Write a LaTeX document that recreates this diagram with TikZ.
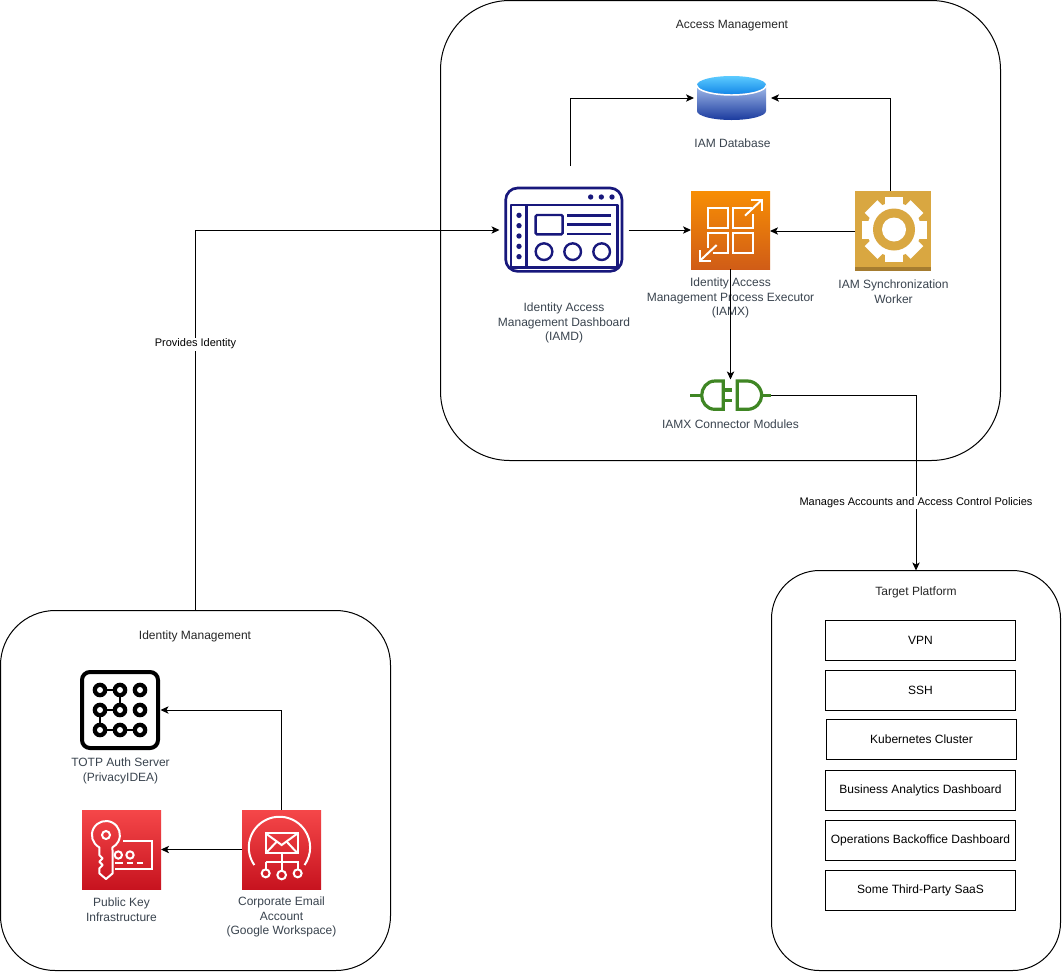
\documentclass[tikz,border=0pt]{standalone}
\usepackage{fontspec}
\setmainfont{Liberation Sans}
\usetikzlibrary{arrows.meta,calc}
\definecolor{navyicon}{HTML}{18187C}
\definecolor{plug}{HTML}{3F8624}
\definecolor{lab}{HTML}{3A444F}
\definecolor{gold}{HTML}{D9A741}
\definecolor{golddark}{HTML}{A57C30}
\definecolor{red1}{HTML}{F54749}
\definecolor{red2}{HTML}{C7131F}
\definecolor{or1}{HTML}{F78E04}
\definecolor{or2}{HTML}{D05C17}
\definecolor{dbtop1}{HTML}{5CCBFF}
\definecolor{dbtop2}{HTML}{1488E8}
\definecolor{dbbody1}{HTML}{A4BDEB}
\definecolor{dbbody2}{HTML}{1A3A9E}
\tikzset{
  hit/.style 2 args={minimum width=#1*0.75pt,minimum height=#2*0.75pt,inner sep=0,outer sep=0},
  zone/.style={draw=black,line width=0.75pt,fill=white},
  itembox/.style={draw=black,line width=0.75pt,fill=white,minimum width=142.5pt,minimum height=30pt,inner sep=0,font=\fontsize{9}{11}\selectfont},
  lbl/.style={align=center,inner sep=0,font=\fontsize{9}{10.9}\selectfont,text=lab},
  title/.style={align=center,inner sep=0,font=\fontsize{9}{10.9}\selectfont,text=black!85},
  edge/.style={fill=white,inner sep=1pt,font=\fontsize{8.25}{10}\selectfont},
  conn/.style={draw=black,line width=0.75pt,-{Stealth[length=6pt,width=5.5pt,inset=1.5pt]}},
  zoomed/.style={x=0.25pt,y=-0.25pt},
  wl/.style={draw=white,line width=1.5pt,line join=miter},
}
\begin{document}
\begin{tikzpicture}[x=0.75pt,y=-0.75pt]
\useasboundingbox (0,0) rectangle (1062,971);
% zones
\draw[zone,rounded corners=52pt] (440.5,0.5) rectangle (1000.5,460.5);
\node[hit={560}{460}] (access) at (720.5,230.5) {};
\draw[zone,rounded corners=41pt] (0.5,610.5) rectangle (390.5,970.5);
\node[hit={390}{360}] (identity) at (195.5,790.5) {};
\draw[zone,rounded corners=36pt] (771.5,570.5) rectangle (1060.5,970.5);
\node[hit={289}{400}] (target) at (916,770.5) {};
\node[title] (tacc) at (732,26) {Access Management};
\node[title] (tid) at (195,636.5) {Identity Management};
\node[title] (ttar) at (916,592.5) {Target Platform};
% item boxes
\node[itembox] (vpn) at (920.5,640.5) {VPN};
\node[itembox] (ssh) at (920.5,690.5) {SSH};
\node[itembox] (k8s) at (921.5,739.5) {Kubernetes Cluster};
\node[itembox] (bad) at (920.5,790.5) {Business Analytics Dashboard};
\node[itembox] (obd) at (920.5,840.5) {Operations Backoffice Dashboard};
\node[itembox] (saas) at (920.5,890.5) {Some Third-Party SaaS};
% icon anchors
\node[hit={77}{44}] (db) at (732.5,98) {};
\node[hit={129}{128}] (iamd) at (564,230) {};
\node[hit={79}{78}] (iamx) at (730.5,230) {};
\node[hit={76}{80}] (sync) at (893,231) {};
\node[hit={81}{31}] (plugn) at (730.5,395) {};
\node[hit={80}{80}] (totp) at (120.5,710) {};
\node[hit={79}{79}] (pki) at (121.5,849.5) {};
\node[hit={79}{79}] (email) at (281.5,849.5) {};
% DB icon
\shade[top color=dbbody1,bottom color=dbbody2] (697,85) -- (697,111) arc[start angle=180,end angle=0,x radius=34.5,y radius=9] -- (766,85) -- cycle;
\shade[top color=dbtop1,bottom color=dbtop2] (731.5,85) ellipse (34.5 and 9);
\draw[white,line width=1.1pt] (697,85.5) arc[start angle=180,end angle=0,x radius=34.5,y radius=9.5];
% IAMD icon
\begin{scope}[shift={(490,70)},zoomed]
\draw[navyicon,line width=2pt,rounded corners=9pt] (47,354) rectangle (396,604);
\draw[navyicon,line width=1.8pt,line join=round] (63,405) rectangle (382,592);
\draw[navyicon,line width=1.8pt] (110,405) -- (110,592);
\foreach \yy in {436,467,498,529,560} \fill[navyicon] (87,\yy) circle (8);
\foreach \xx in {302,334,366} \fill[navyicon] (\xx,381) circle (8);
\draw[navyicon,line width=1.8pt,rounded corners=1pt] (137,435) rectangle (218,493);
\foreach \yy in {436,464,492} \draw[navyicon,line width=1.8pt] (232,\yy) -- (362,\yy);
\foreach \xx in {162,248,335} \draw[navyicon,line width=1.8pt] (\xx,545) circle (25);
\end{scope}
% IAMX icon
\shade[top color=or1,bottom color=or2] (691,191) rectangle (770,269.5);
\begin{scope}[shift={(490,70)},zoomed]
\draw[wl] (655,415) rectangle (715,473);
\draw[wl] (730,490) rectangle (790,548);
\draw[wl] (785,415) -- (730,415) -- (730,473) -- (790,473) -- (790,432);
\draw[wl] (670,548) -- (715,548) -- (715,490) -- (655,490) -- (655,535);
\draw[wl] (765,437) -- (815,390);
\draw[wl] (782,390) -- (815,390) -- (815,423);
\draw[wl] (680,525) -- (630,572);
\draw[wl] (630,540) -- (630,572) -- (663,572);
\end{scope}
% Sync icon
\fill[gold] (855,191) rectangle (931,271);
\fill[golddark] (855,267) rectangle (931,271);
\foreach \a in {0,45,90,135}
  \fill[white,rotate around={\a:(894,229.5)}] (885,197) rectangle (903,262);
\fill[white] (894,229.5) circle (27);
\fill[gold] (894,229.5) circle (21);
\fill[white] (894,229.5) circle (12);
% plug icon
\begin{scope}[shift={(660,180)},zoomed,plug,line width=2.4pt]
\draw (90,646) -- (125,646);
\draw (190,603) -- (165,603) .. controls (140,603) and (125,625) .. (125,646) .. controls (125,667) and (140,688) .. (165,688) -- (190,688) -- cycle;
\draw (190,630) -- (217,630);
\draw (190,662) -- (217,662);
\draw (232,603) -- (262,603) .. controls (287,603) and (305,625) .. (305,646) .. controls (305,667) and (287,688) .. (262,688) -- (232,688) -- cycle;
\draw (305,646) -- (333,646);
\end{scope}
% TOTP icon
\begin{scope}[shift={(60,660)},zoomed]
\draw[black,line width=3pt,rounded corners=6pt] (66,36) rectangle (294,264);
\draw[black,line width=2.2pt] (120,90) -- (180,90) -- (180,150) -- (120,150) -- (120,210) -- (240,210);
\foreach \xx in {120,180,240} \foreach \yy in {90,150,210} {
  \fill[black] (\xx,\yy) circle (22);
  \fill[white] (\xx,\yy) circle (9);
}
\end{scope}
% PKI icon
\shade[top color=red1,bottom color=red2] (82,810) rectangle (161,889);
\begin{scope}[shift={(60,660)},zoomed]
\draw[wl,line join=round] (118,562) arc[start angle=118,end angle=422,radius=42] -- (158,640) -- (138,657) -- (118,640) -- (118,625) -- (128,615) -- (118,605) -- (128,595) -- (118,585) -- cycle;
\draw[wl] (138,525) circle (12);
\draw[wl] (190,543) -- (277,543) -- (277,628) -- (165,628);
\draw[wl] (175,585) circle (11);
\draw[wl] (210,585) circle (11);
\draw[wl] (165,608) -- (190,608);
\draw[wl] (200,608) -- (218,608);
\draw[wl] (230,608) -- (250,608);
\end{scope}
% email icon
\shade[top color=red1,bottom color=red2] (242,810) rectangle (321,889);
\begin{scope}[shift={(60,660)},zoomed]
\draw[wl] (583,615) arc[start angle=145,end angle=395,radius=92];
\draw[wl] (617,520) rectangle (713,580);
\draw[wl] (617,520) -- (665,555) -- (713,520);
\draw[wl] (617,580) -- (650,545);
\draw[wl] (713,580) -- (680,545);
\draw[wl] (665,580) -- (665,632);
\draw[wl] (617,605) -- (713,605) -- (713,628);
\draw[wl] (617,605) -- (617,628);
\draw[wl] (617,640) circle (12);
\draw[wl] (665,645) circle (13);
\draw[wl] (713,640) circle (12);
\end{scope}
% labels
\node[lbl] (ldb) at (732.5,143) {IAM Database};
\node[lbl] (liamd) at (564,323) {Identity Access\\Management Dashboard\\(IAMD)};
\node[lbl] (liamx) at (730.5,298) {Identity Access\\Management Process Executor\\(IAMX)};
\node[lbl] (lsync) at (893.5,291.5) {IAM Synchronization\\Worker};
\node[lbl] (lplug) at (730.5,424.5) {IAMX Connector Modules};
\node[lbl] (ltotp) at (120.5,771) {TOTP Auth Server\\(PrivacyIDEA)};
\node[lbl] (lpki) at (121.5,909.5) {Public Key\\Infrastructure};
\node[lbl] (lemail) at (281.5,917) {Corporate Email\\Account\\(Google Workspace)};
% connectors
\draw[conn] (identity.north) |- (iamd.west) node[pos=0.350,edge] (e1) {Provides Identity};
\draw[conn] ([xshift=4.5pt]iamd.north) |- (db.west);
\draw[conn] ([xshift=-2.25pt]sync.north) |- (db.east);
\draw[conn] (iamd.east) -- (iamx.west);
\draw[conn] (sync.west) -- (sync.west -| iamx.east);
\draw[conn] (iamx.south) -- (plugn.north);
\draw[conn] (plugn.east) -| (target.north) node[pos=0.806,edge] (e2) {Manages Accounts and Access Control Policies};
\draw[conn] (email.north) |- (totp.east);
\draw[conn] (email.west) -- (pki.east);
\end{tikzpicture}
\end{document}
